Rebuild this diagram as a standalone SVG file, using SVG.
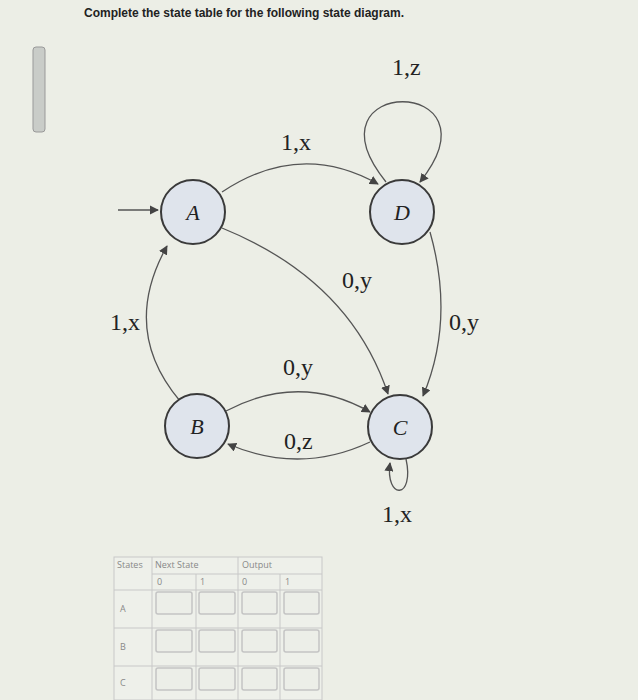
<svg xmlns="http://www.w3.org/2000/svg" width="638" height="700" viewBox="0 0 638 700">
<style>
.st{fill:#dfe4ec;stroke:#3a3a3a;stroke-width:2}
.lb{font-family:"Liberation Serif",serif;font-size:24px;fill:#222}
.nl{font-family:"Liberation Serif",serif;font-style:italic;font-size:22px;fill:#222;text-anchor:middle}
.e{fill:none;stroke:#555;stroke-width:1.3;marker-end:url(#ah)}
.tb{font-family:"Open Sans",sans-serif;font-size:9px;fill:#888}
.cell{fill:none;stroke:#c8c8c8;stroke-width:1}
.box{fill:#eceee8;stroke:#c4c4c4;stroke-width:1.5}
</style>
<defs><marker id="ah" viewBox="0 0 10 10" refX="9" refY="5" markerWidth="7" markerHeight="7" orient="auto"><path d="M0,0 L10,5 L0,10 z" fill="#444"/></marker></defs>
<rect width="638" height="700" fill="#eceee6"/>
<rect x="33" y="47" width="12" height="85" rx="3" fill="#c9ccc8" stroke="#999"/>
<text x="84" y="17" font-family="Liberation Sans,sans-serif" font-size="12" font-weight="bold" fill="#222">Complete the state table for the following state diagram.</text>
<g id="connectors">
<path class="e" d="M118,210 L158,210"/>
<path class="e" d="M222,192 Q300,140 378,184"/>
<path class="e" d="M386,182 C300,75 505,75 420,182"/>
<path class="e" d="M222,228 Q350,280 388,394"/>
<path class="e" d="M430,232 Q455,320 423,396"/>
<path class="e" d="M180,401 Q120,330 167,246"/>
<path class="e" d="M226,411 Q300,372 370,412"/>
<path class="e" d="M370,442 Q300,475 228,444"/>
<path class="e" d="M406,459 C415,500 385,500 390,463"/>
</g>
<text class="lb" x="281" y="150">1,x</text>
<text class="lb" x="392" y="75">1,z</text>
<text class="lb" x="342" y="288">0,y</text>
<text class="lb" x="449" y="330">0,y</text>
<text class="lb" x="110" y="330">1,x</text>
<text class="lb" x="283" y="375">0,y</text>
<text class="lb" x="284" y="449">0,z</text>
<text class="lb" x="382" y="522">1,x</text>
<g id="A"><circle class="st" cx="193" cy="212" r="32"/><text class="nl" x="193" y="220">A</text></g>
<g id="D"><circle class="st" cx="402" cy="212" r="32"/><text class="nl" x="402" y="220">D</text></g>
<g id="B"><circle class="st" cx="197" cy="426" r="32"/><text class="nl" x="197" y="434">B</text></g>
<g id="C"><circle class="st" cx="400" cy="427" r="32"/><text class="nl" x="400" y="435">C</text></g>
<g id="table">
<rect x="114" y="557" width="208" height="143" fill="#eef0ea" stroke="#c8c8c8"/>
<path class="cell" d="M152,557V700 M196,574V700 M238,557V700 M280,574V700 M152,574H322 M114,590H322 M114,628H322 M114,666H322"/>
<text class="tb" x="117" y="568">States</text><text class="tb" x="155" y="568">Next State</text><text class="tb" x="242" y="568">Output</text>
<text class="tb" x="157" y="585">0</text><text class="tb" x="200" y="585">1</text><text class="tb" x="242" y="585">0</text><text class="tb" x="285" y="585">1</text>
<text class="tb" x="120" y="612">A</text><text class="tb" x="120" y="650">B</text><text class="tb" x="120" y="686">C</text>
<rect class="box" x="156" y="592" width="36" height="22" rx="2"/><rect class="box" x="199" y="592" width="36" height="22" rx="2"/><rect class="box" x="242" y="592" width="35" height="22" rx="2"/><rect class="box" x="284" y="592" width="35" height="22" rx="2"/>
<rect class="box" x="156" y="630" width="36" height="22" rx="2"/><rect class="box" x="199" y="630" width="36" height="22" rx="2"/><rect class="box" x="242" y="630" width="35" height="22" rx="2"/><rect class="box" x="284" y="630" width="35" height="22" rx="2"/>
<rect class="box" x="156" y="668" width="36" height="22" rx="2"/><rect class="box" x="199" y="668" width="36" height="22" rx="2"/><rect class="box" x="242" y="668" width="35" height="22" rx="2"/><rect class="box" x="284" y="668" width="35" height="22" rx="2"/>
</g>
</svg>
